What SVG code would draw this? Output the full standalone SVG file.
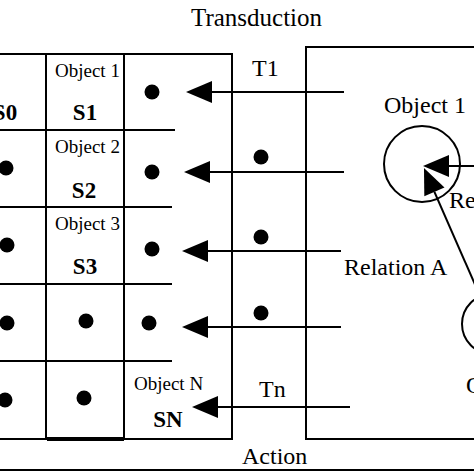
<svg xmlns="http://www.w3.org/2000/svg" width="474" height="474" viewBox="0 0 474 474">
<style>
.ln{stroke:#000;stroke-width:2;fill:none}
.dot{fill:#000}
.sm{font-family:"Liberation Serif","Times New Roman",serif;font-size:19px;fill:#000}
.lg{font-family:"Liberation Serif","Times New Roman",serif;font-size:24px;fill:#000}
.bd{font-family:"Liberation Serif","Times New Roman",serif;font-size:23px;font-weight:bold;fill:#000;text-anchor:middle}
</style>
<defs>
<marker id="ah" markerUnits="userSpaceOnUse" markerWidth="26" markerHeight="22" viewBox="0 0 26 22" refX="0" refY="11" orient="auto" overflow="visible">
<path d="M0,0 L26,11 L0,22 Z" fill="#000"/>
</marker>
</defs>
<rect width="474" height="474" fill="#fff"/>
<g id="title"><text class="lg" x="191" y="26" style="font-size:25px">Transduction</text></g>
<g id="state-table">
<path class="ln" d="M0,54 H232 V439 H0 M46,54 V439 M124,54 V439 M0,130 H175 M0,207 H172 M0,284 H172 M0,361 H172"/>
<path d="M47,439 H124" stroke="#000" stroke-width="4"/>
</g>
<g id="cell-S0"><text class="bd" x="5" y="120">S0</text></g>
<g id="cell-S1"><text class="sm" x="55" y="77">Object 1</text><text class="bd" x="85" y="120">S1</text><circle class="dot" cx="152" cy="92" r="7.5"/></g>
<g id="cell-S2"><circle class="dot" cx="6" cy="168" r="7.5"/><text class="sm" x="55" y="153">Object 2</text><text class="bd" x="84" y="198">S2</text><circle class="dot" cx="152" cy="172" r="7.5"/></g>
<g id="cell-S3"><circle class="dot" cx="7" cy="245" r="7.5"/><text class="sm" x="55" y="230">Object 3</text><text class="bd" x="85" y="274">S3</text><circle class="dot" cx="152" cy="249" r="7.5"/></g>
<g id="cell-row4"><circle class="dot" cx="7" cy="323" r="7.5"/><circle class="dot" cx="86" cy="321" r="7.5"/><circle class="dot" cx="149" cy="323" r="7.5"/></g>
<g id="cell-SN"><circle class="dot" cx="5" cy="400" r="7.5"/><circle class="dot" cx="84" cy="398" r="7.5"/><text class="sm" x="134" y="390">Object N</text><text class="bd" x="168" y="427">SN</text></g>
<g id="transitions">
<text class="lg" x="252" y="76">T1</text>
<circle class="dot" cx="261" cy="157" r="7.5"/>
<circle class="dot" cx="261" cy="237" r="7.5"/>
<circle class="dot" cx="261" cy="313" r="7.5"/>
<text class="lg" x="259" y="397">Tn</text>
</g>
<g id="connectors">
<line class="ln" x1="344" y1="92" x2="212" y2="92" marker-end="url(#ah)"/>
<line class="ln" x1="344" y1="172" x2="210" y2="172" marker-end="url(#ah)"/>
<line class="ln" x1="341" y1="251" x2="208" y2="251" marker-end="url(#ah)"/>
<line class="ln" x1="341" y1="327" x2="208" y2="327" marker-end="url(#ah)"/>
<line class="ln" x1="350" y1="407" x2="218" y2="407" marker-end="url(#ah)"/>
<line class="ln" x1="476" y1="166" x2="449" y2="166" marker-end="url(#ah)"/>
<line class="ln" x1="480" y1="296" x2="434.4" y2="191.8" marker-end="url(#ah)"/>
</g>
<g id="object-panel">
<path class="ln" d="M474,47 H306 V439 H474"/>
</g>
<g id="object1"><text class="lg" x="384" y="113">Object 1</text><circle class="ln" cx="422" cy="164" r="38"/></g>
<g id="object2"><circle class="ln" cx="492" cy="324" r="30"/><text class="lg" x="466" y="393">O</text></g>
<g id="relations"><text class="lg" x="344" y="275">Relation A</text><text class="lg" x="449" y="208">Re</text></g>
<g id="action"><text class="lg" x="242" y="464">Action</text><line class="ln" x1="0" y1="470" x2="474" y2="470"/></g>
</svg>
